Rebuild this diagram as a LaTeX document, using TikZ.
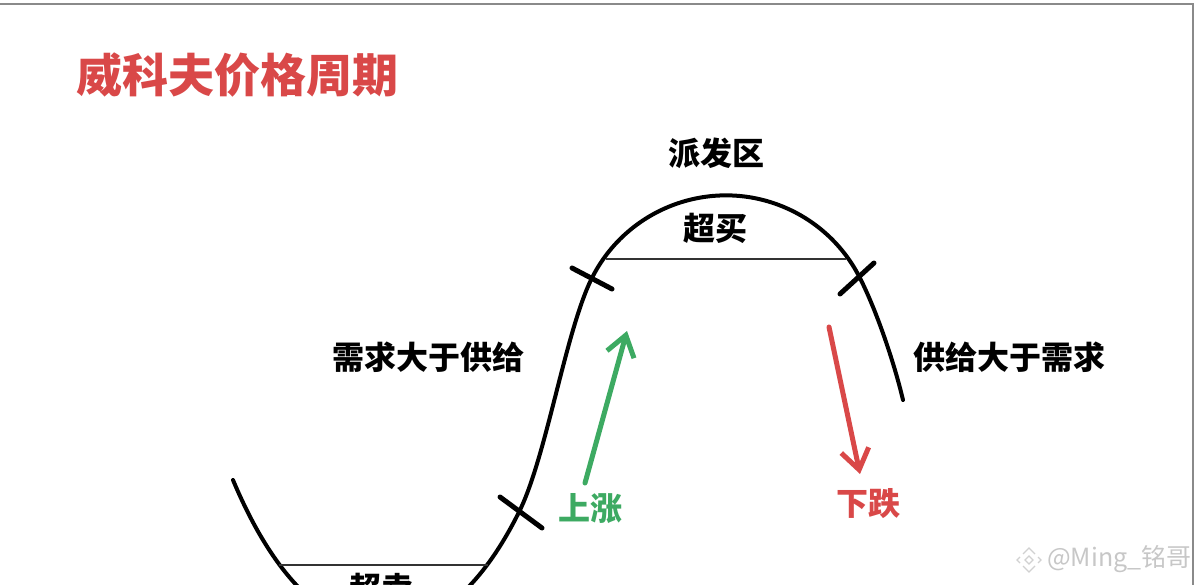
\documentclass[tikz,border=0pt]{standalone}
\usepackage{fontspec}
\newfontfamily\cjk{Noto Sans CJK SC}
\usetikzlibrary{arrows.meta}
\definecolor{titlered}{HTML}{D94848}
\definecolor{upgreen}{HTML}{3DAA62}
\definecolor{downred}{HTML}{D94848}
\definecolor{framegray}{HTML}{8A8A8A}
\tikzset{
  lbl/.style={font=\cjk\bfseries\fontsize{32pt}{36pt}\selectfont, text=black, inner sep=0pt},
  curveline/.style={line width=4pt, line cap=round, line join=round, black},
  tickmark/.style={line width=5pt, line cap=round, black},
  levelline/.style={line width=1.5pt, black!80},
  trendarrow/.style={line width=5pt, line cap=round, -{Straight Barb[length=20pt,width=28pt,line width=5pt]}},
}
\begin{document}
\begin{tikzpicture}[x=1pt,y=-1pt]
\useasboundingbox (0,0) rectangle (1198,585);
\clip (0,0) rectangle (1198,585);
\fill[white] (0,0) rectangle (1198,585);
% frame lines
\draw[framegray, line width=2pt] (0,4) -- (1193,4) -- (1193,590);
% title
\node[font=\cjk\bfseries\fontsize{46pt}{50pt}\selectfont, text=titlered, inner sep=0pt] (title) at (237,75) {威科夫价格周期};
% main curve
\draw[curveline] (233,480) .. controls (264,554) and (313,628) .. (383,628)
  .. controls (453,628) and (498,555) .. (520,510)
  .. controls (546,456) and (565,336) .. (590,282)
  arc[start angle=205, end angle=333.5, radius=150]
  .. controls (878,314) and (895,366) .. (903,400);
% level lines
\draw[levelline] (606,259) -- (846,259);
\draw[levelline] (279,565) -- (488,565);
% tick marks
\draw[tickmark] (500,497) -- (542,528);
\draw[tickmark] (572,268) -- (612,289);
\draw[tickmark] (840,294) -- (874,263);
% labels
\node[lbl] (dist) at (716,153) {派发区};
\node[lbl] (ob) at (715,228) {超买};
\node[lbl] (dem) at (428,357) {需求大于供给};
\node[lbl] (sup) at (1009,357) {供给大于需求};
\node[lbl] (os) at (381,588) {超卖};
\node[lbl, text=upgreen] (up) at (590,509) {上涨};
\node[lbl, text=downred] (down) at (868,504) {下跌};
% arrows
\coordinate (ga) at (585,483);
\coordinate (gb) at (627,331);
\coordinate (ra) at (829,327);
\coordinate (rb) at (860,474);
\draw[trendarrow, upgreen] (ga) -- (gb);
\draw[trendarrow, downred] (ra) -- (rb);
% watermark
\begin{scope}[shift={(1029,560)}, draw=black!18, line width=1.2pt]
  \draw (0,-4) -- (4,0) -- (0,4) -- (-4,0) -- cycle;
  \draw (-9,-3) -- (-12,0) -- (-9,3);
  \draw (9,-3) -- (12,0) -- (9,3);
  \draw (-6,-6) -- (0,-12) -- (6,-6);
  \draw (-6,6) -- (0,12) -- (6,6);
\end{scope}
\node[font=\cjk\fontsize{25pt}{28pt}\selectfont, text=black!22, inner sep=0pt, anchor=west] (wm) at (1047,559) {@Ming\_铭哥};
\end{tikzpicture}
\end{document}
